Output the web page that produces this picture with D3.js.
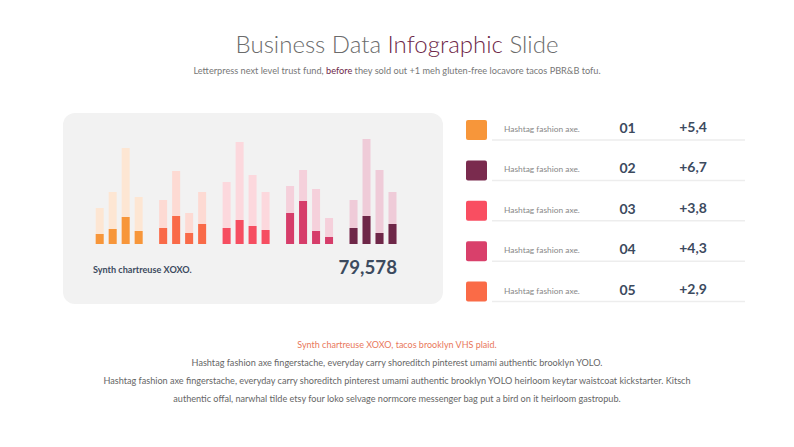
<!DOCTYPE html>
<html><head><meta charset="utf-8">
<script src="https://cdn.jsdelivr.net/npm/d3@7"></script>
<style>
html,body{margin:0;padding:0;background:#fff;}
svg{display:block;font-family:Lato,"Open Sans",sans-serif;}
</style></head>
<body><svg id="c" width="794" height="447"></svg>
<script>
// ---- data ----
const groups = ["G1","G2","G3","G4","G5"];
const barKeys = ["a","b","c","d"];
const totalValues = [
  [36, 52, 96, 47],
  [44, 73, 31, 52],
  [62, 102, 69, 52],
  [58, 74, 55, 26],
  [44, 105, 74, 52]
];
const partValues = [
  [10, 15, 27, 13],
  [16, 28, 11, 20],
  [16, 24, 18, 14],
  [31, 43, 13, 7],
  [16, 28, 11, 20]
];
const groupColors = ["#F7963A","#F96A48","#F64E61","#D63D6A","#6E2748"];
const groupLight = ["#FDE6D3","#FDDAD3","#FCD8DD","#F5D0DB","#EFCBD8"];
const legendLabels = ["Hashtag fashion axe.","Hashtag fashion axe.","Hashtag fashion axe.","Hashtag fashion axe.","Hashtag fashion axe."];
const legendNumbers = ["01","02","03","04","05"];
const legendValues = ["+5,4","+6,7","+3,8","+4,3","+2,9"];
const legendColors = ["#F7963A","#7A2B4E","#F94E61","#D9406B","#FA6B47"];
const panelLabel = "Synth chartreuse XOXO.";
const panelTotal = "79,578";
const bodyLines = [
  "Hashtag fashion axe fingerstache, everyday carry shoreditch pinterest umami authentic brooklyn YOLO.",
  "Hashtag fashion axe fingerstache, everyday carry shoreditch pinterest umami authentic brooklyn YOLO heirloom keytar waistcoat kickstarter. Kitsch",
  "authentic offal, narwhal tilde etsy four loko selvage normcore messenger bag put a bird on it heirloom gastropub."
];

const svg = d3.select("#c");
const W = 794;
const dark = "#3C4A5E";

// Title
const title = svg.append("text").attr("x", W/2).attr("y", 53).attr("text-anchor","middle")
  .attr("font-size", 24).attr("font-weight", 300).attr("fill", "#6b6b6b");
title.append("tspan").text("Business Data ");
title.append("tspan").attr("fill","#6E2748").text("Infographic");
title.append("tspan").text(" Slide");

const sub = svg.append("text").attr("x", W/2).attr("y", 74).attr("text-anchor","middle")
  .attr("font-size", 9.2).attr("fill", "#777");
sub.append("tspan").text("Letterpress next level trust fund, ");
sub.append("tspan").attr("fill","#6E2748").text("before");
sub.append("tspan").text(" they sold out +1 meh gluten-free locavore tacos PBR&B tofu.");

// Panel
svg.append("rect").attr("x", 63).attr("y", 113).attr("width", 380).attr("height", 191)
  .attr("rx", 12).attr("fill", "#F2F2F2");

// Scales
const x0 = d3.scaleBand().domain(groups).range([95.7, 396.5]).paddingInner(0.26).paddingOuter(0);
const x1 = d3.scaleBand().domain(barKeys).range([0, x0.bandwidth()]).paddingInner(0.385).paddingOuter(0);
const y = d3.scaleLinear().domain([0, 110]).range([244, 134]);

const g = svg.append("g");
groups.forEach((gr, gi) => {
  const gg = g.append("g").attr("transform", `translate(${x0(gr)},0)`);
  gg.selectAll("rect.t").data(barKeys.map((k,i)=>({k, v: totalValues[gi][i]}))).join("rect")
    .attr("class","t").attr("x", d=>x1(d.k)).attr("width", x1.bandwidth())
    .attr("y", d=>y(d.v)).attr("height", d=>y(0)-y(d.v)).attr("fill", groupLight[gi]);
  gg.selectAll("rect.p").data(barKeys.map((k,i)=>({k, v: partValues[gi][i]}))).join("rect")
    .attr("class","p").attr("x", d=>x1(d.k)).attr("width", x1.bandwidth())
    .attr("y", d=>y(d.v)).attr("height", d=>y(0)-y(d.v)).attr("fill", groupColors[gi]);
});

svg.append("text").attr("x", 93).attr("y", 273).attr("font-size", 9.1).attr("font-weight", 700)
  .attr("fill", dark).text(panelLabel);
svg.append("text").attr("x", 397).attr("y", 273.5).attr("text-anchor","end").attr("font-size", 18.7)
  .attr("font-weight", 700).attr("fill", dark).text(panelTotal);

// Legend
const rowY = d3.scalePoint().domain(legendNumbers).range([130, 291.5]);
const rows = svg.append("g").selectAll("g").data(legendNumbers).join("g")
  .attr("transform", d=>`translate(0,${rowY(d)})`);
rows.append("rect").attr("x", 466).attr("y", -10).attr("width", 21).attr("height", 20).attr("rx", 2)
  .attr("fill", (d,i)=>legendColors[i]);
rows.append("line").attr("x1", 492).attr("x2", 745).attr("y1", 10).attr("y2", 10)
  .attr("stroke", "#EDEDED").attr("stroke-width", 1.5);
rows.append("text").attr("x", 504).attr("y", 2).attr("font-size", 8.4).attr("fill", "#888")
  .text((d,i)=>legendLabels[i]);
rows.append("text").attr("x", 627.5).attr("y", 3).attr("text-anchor","middle").attr("font-size", 14)
  .attr("font-weight", 700).attr("fill", dark).text(d=>d);
rows.append("text").attr("x", 693).attr("y", 2).attr("text-anchor","middle").attr("font-size", 14)
  .attr("font-weight", 700).attr("fill", dark).text((d,i)=>legendValues[i]);

// Bottom text
svg.append("text").attr("x", W/2).attr("y", 348).attr("text-anchor","middle").attr("font-size", 9)
  .attr("fill", "#E9785C").text("Synth chartreuse XOXO, tacos brooklyn VHS plaid.");
bodyLines.forEach((t,i)=>{
  svg.append("text").attr("x", W/2).attr("y", 366 + i*18).attr("text-anchor","middle")
    .attr("font-size", 9.1).attr("fill", "#666").text(t);
});
</script></body></html>
